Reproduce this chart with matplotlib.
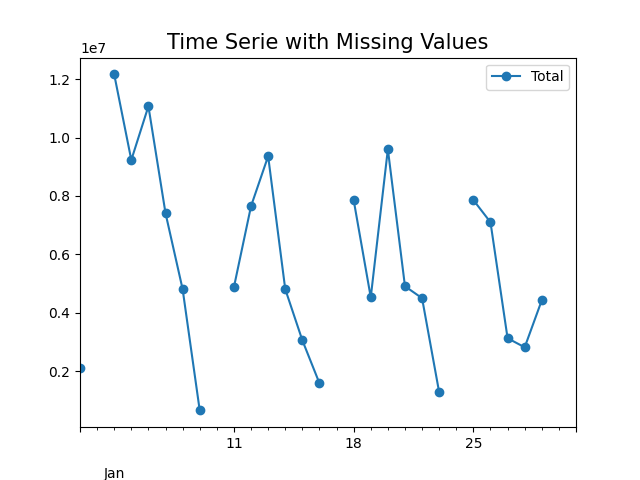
import matplotlib
matplotlib.use("Agg")
import matplotlib.pyplot as plt
import matplotlib.dates as mdates
import numpy as np

# daily data, Jan 2016 (NaN = missing day)
dates = np.arange('2016-01-02', '2016-02-01', dtype='datetime64[D]')
total = [2.10e6, np.nan, 12.16e6, 9.23e6, 11.07e6, 7.41e6, 4.81e6, 0.66e6,
         np.nan, 4.88e6, 7.65e6, 9.36e6, 4.81e6, 3.06e6, 1.59e6, np.nan,
         7.86e6, 4.53e6, 9.60e6, 4.91e6, 4.50e6, 1.28e6, np.nan, 7.86e6,
         7.10e6, 3.13e6, 2.82e6, 4.43e6, np.nan, np.nan]

major_days = ['2016-01-02', '2016-01-11', '2016-01-18', '2016-01-25', '2016-01-31']
major_labels = ['', '11', '18', '25', '']

fig, ax = plt.subplots(figsize=(6.4, 4.8), dpi=100)
ax.plot(dates, total, 'o-', color='#1f77b4', label='Total')

ax.set_xlim(dates[0], dates[-1])
ax.set_xticks(np.array(major_days, dtype='datetime64[D]'), major_labels)
minor = [d for d in dates if str(d) not in major_days]
minor_labels = ['\n\nJan' if str(d) == '2016-01-04' else '' for d in minor]
ax.set_xticks(minor, minor_labels, minor=True)

ax.set_title('Time Serie with Missing Values', fontsize=15)
ax.legend(loc='upper right')

fig.savefig('out.png')
